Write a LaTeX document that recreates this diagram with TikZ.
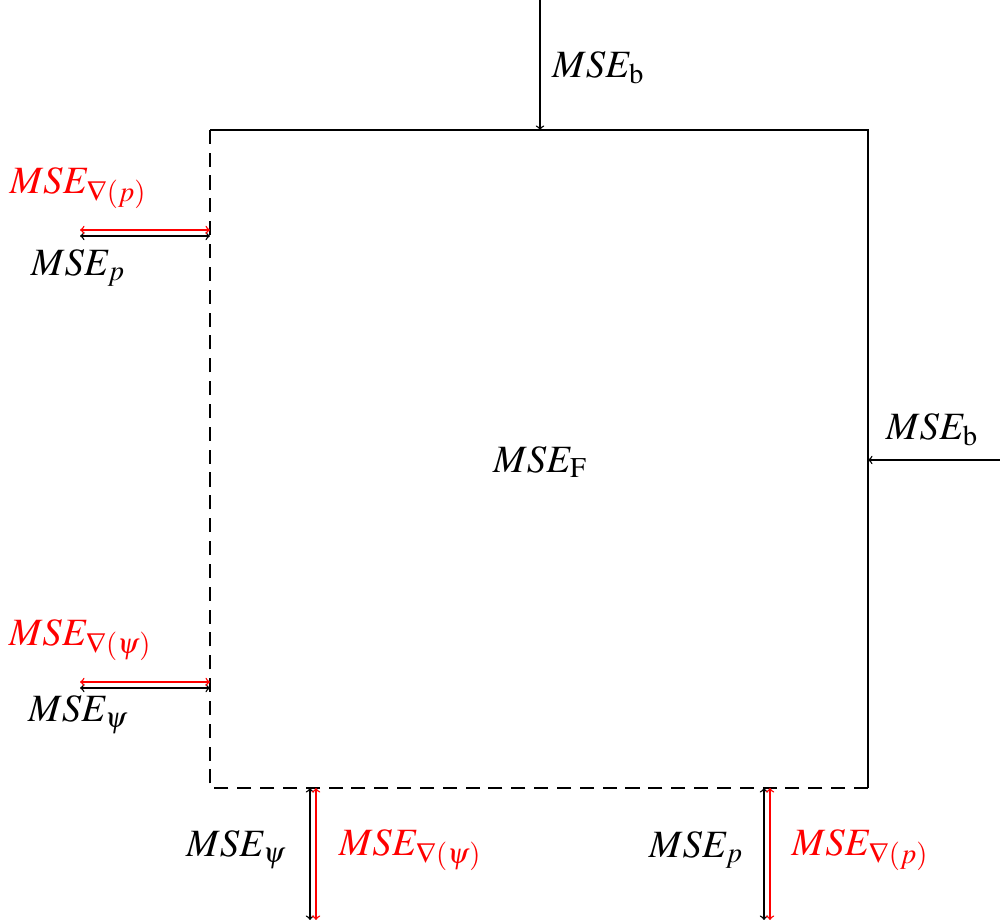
\documentclass[tikz,border=0pt]{standalone}
\usepackage{mathptmx}
\usetikzlibrary{arrows}
\tikzset{
  lbl/.style={font=\fontsize{22}{26}\selectfont, inner sep=1pt},
  red lbl/.style={lbl, text=red},
  flux/.style={draw, ->, >=to, line width=0.8pt},
  twoway/.style={draw, <->, >=to, line width=0.8pt}
}
\begin{document}
\begin{tikzpicture}
		\useasboundingbox (0,0) rectangle (20,18.4);
		% domain corners
		\coordinate (sw) at (4.2,2.64);
		\coordinate (se) at (17.36,2.64);
		\coordinate (ne) at (17.36,15.8);
		\coordinate (nw) at (4.2,15.8);
		\draw[line width=0.8pt] (nw) -- (ne) -- (se);
		\draw[line width=0.8pt, dash pattern=on 8pt off 5pt] (se) -- (sw) -- (nw);
		\node (inner) [lbl] at (10.8,9.16) {$MSE_{\mathrm{F}}$};
		% boundary on top and right
		\coordinate (topsrc) at (10.8,18.4);
		\coordinate (topdst) at (10.8,15.8);
		\path[flux] (topsrc) -- (topdst);
		\node (toplbl) [lbl, anchor=west] at (11.0,17.04) {$MSE_{\mathrm{b}}$};
		\coordinate (rsrc) at (20,9.2);
		\coordinate (rdst) at (17.36,9.2);
		\path[flux] (rsrc) -- (rdst);
		\node (rlbl) [lbl] at (18.64,9.8) {$MSE_{\mathrm{b}}$};
		% left side pairs
		\coordinate (lpa) at (1.6,13.68);
		\coordinate (lpb) at (4.2,13.68);
		\coordinate (lpra) at (1.6,13.8);
		\coordinate (lprb) at (4.2,13.8);
		\path[twoway] (lpa) -- (lpb);
		\path[twoway, red] (lpra) -- (lprb);
		\node (lpred) [red lbl] at (1.56,14.64) {$MSE_{\nabla(p)}$};
		\node (lpblk) [lbl] at (1.56,13.04) {$MSE_{p}$};
		\coordinate (lsa) at (1.6,4.64);
		\coordinate (lsb) at (4.2,4.64);
		\coordinate (lsra) at (1.6,4.76);
		\coordinate (lsrb) at (4.2,4.76);
		\path[twoway] (lsa) -- (lsb);
		\path[twoway, red] (lsra) -- (lsrb);
		\node (lsred) [red lbl] at (1.6,5.6) {$MSE_{\nabla(\psi)}$};
		\node (lsblk) [lbl] at (1.56,4.1) {$MSE_{\psi}$};
		% bottom side pairs
		\coordinate (bsa) at (6.2,2.64);
		\coordinate (bsb) at (6.2,0);
		\coordinate (bsra) at (6.32,2.64);
		\coordinate (bsrb) at (6.32,0);
		\path[twoway] (bsa) -- (bsb);
		\path[twoway, red] (bsra) -- (bsrb);
		\node (bsblk) [lbl] at (4.72,1.4) {$MSE_{\psi}$};
		\node (bsred) [red lbl] at (8.2,1.4) {$MSE_{\nabla(\psi)}$};
		\coordinate (bpa) at (15.28,2.64);
		\coordinate (bpb) at (15.28,0);
		\coordinate (bpra) at (15.4,2.64);
		\coordinate (bprb) at (15.4,0);
		\path[twoway] (bpa) -- (bpb);
		\path[twoway, red] (bpra) -- (bprb);
		\node (bpblk) [lbl] at (13.92,1.4) {$MSE_{p}$};
		\node (bpred) [red lbl] at (17.2,1.4) {$MSE_{\nabla(p)}$};
	\end{tikzpicture}
\end{document}
